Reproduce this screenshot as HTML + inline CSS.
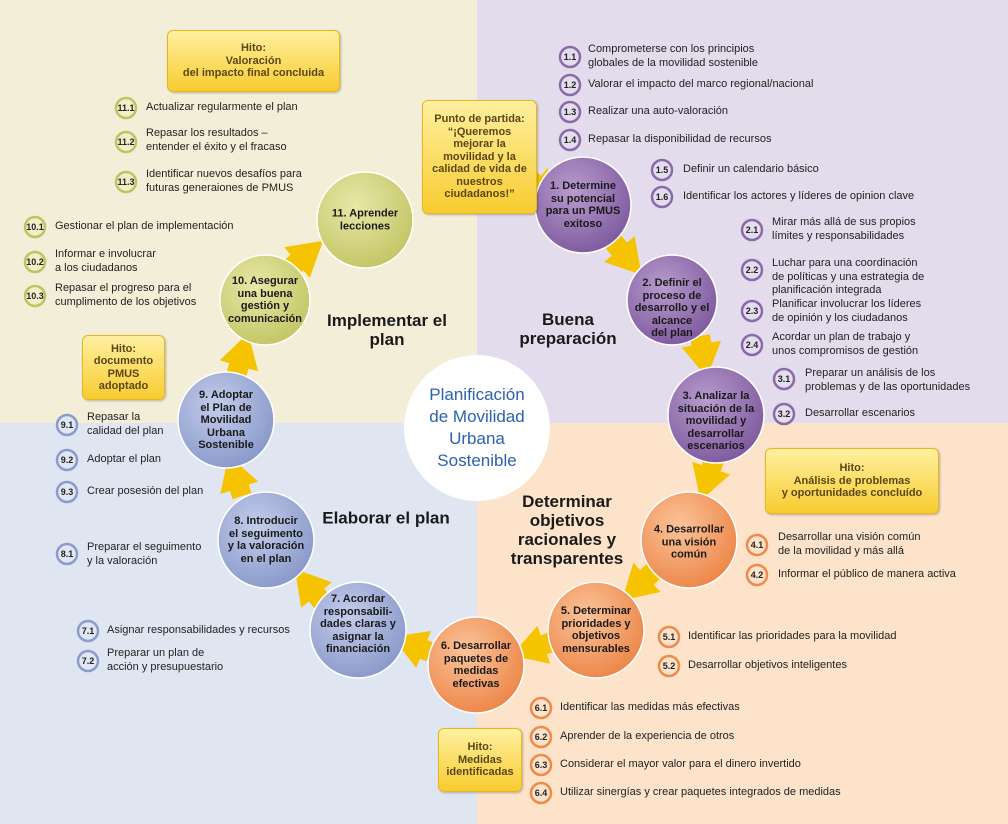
<!DOCTYPE html>
<html><head><meta charset="utf-8"><style>
body{margin:0;width:1008px;height:824px;overflow:hidden;font-family:"Liberation Sans",sans-serif}
#w{position:relative;width:1008px;height:824px}
svg{position:absolute;left:0;top:0}
.t{position:absolute;font-size:11px;color:#222;line-height:13.5px;white-space:nowrap}
.c{position:absolute;text-align:center;font-weight:bold;font-size:11px;line-height:12.5px;color:#1a1a1a;transform:translate(-50%,-50%);white-space:nowrap}
.ph{position:absolute;text-align:center;font-weight:bold;font-size:17px;line-height:19px;color:#1a1a1a;transform:translate(-50%,-50%);white-space:nowrap}
.h{position:absolute;background:linear-gradient(#fff0a0,#f8cc30);border:1px solid #e6b820;border-radius:6px;text-align:center;font-weight:bold;font-size:11px;line-height:12.5px;color:#5a4715;display:flex;align-items:center;justify-content:center;box-shadow:1px 1px 2px rgba(0,0,0,.25)}
</style></head><body><div id="w">
<svg width="1008" height="824">
<defs>
<radialGradient id="gp" cx=".4" cy=".35" r=".7"><stop offset="0" stop-color="#b79ccd"/><stop offset="1" stop-color="#7d589d"/></radialGradient>
<radialGradient id="go" cx=".4" cy=".35" r=".7"><stop offset="0" stop-color="#fbc49a"/><stop offset="1" stop-color="#ec8446"/></radialGradient>
<radialGradient id="gb" cx=".4" cy=".35" r=".7"><stop offset="0" stop-color="#c4cdea"/><stop offset="1" stop-color="#8797c9"/></radialGradient>
<radialGradient id="gg" cx=".4" cy=".35" r=".7"><stop offset="0" stop-color="#e8e8a8"/><stop offset="1" stop-color="#c2c463"/></radialGradient>
<marker id="ar" markerUnits="userSpaceOnUse" markerWidth="44" markerHeight="44" refX="4" refY="22" orient="auto"><path d="M0,2 L34,22 L0,42 Z" fill="#f6c300"/></marker>
</defs>
<rect x="0" y="0" width="477" height="423" fill="#f3eed8"/>
<rect x="477" y="0" width="531" height="423" fill="#e3dced"/>
<rect x="0" y="423" width="477" height="401" fill="#dfe6f2"/>
<rect x="477" y="423" width="531" height="401" fill="#fce3ca"/>
<circle cx="477" cy="428" r="73" fill="#fff"/>
<g stroke="#f6c300" stroke-width="20" marker-end="url(#ar)" fill="none">
<line x1="528" y1="178" x2="538" y2="186"/>
<line x1="610" y1="238" x2="622" y2="252"/>
<line x1="700" y1="336" x2="702" y2="348"/>
<line x1="714" y1="460" x2="710" y2="472"/>
<line x1="657" y1="568" x2="644" y2="580"/>
<line x1="552" y1="642" x2="540" y2="646"/>
<line x1="430" y1="652" x2="420" y2="648"/>
<line x1="324" y1="604" x2="314" y2="592"/>
<line x1="242" y1="496" x2="238" y2="484"/>
<line x1="236" y1="376" x2="240" y2="362"/>
<line x1="288" y1="270" x2="300" y2="260"/>
</g>
<g stroke="#fff" stroke-width="1.5">
<circle cx="583" cy="205" r="48" fill="url(#gp)"/>
<circle cx="672" cy="300" r="45" fill="url(#gp)"/>
<circle cx="716" cy="415" r="48" fill="url(#gp)"/>
<circle cx="689" cy="540" r="48" fill="url(#go)"/>
<circle cx="596" cy="630" r="48" fill="url(#go)"/>
<circle cx="476" cy="665" r="48" fill="url(#go)"/>
<circle cx="358" cy="630" r="48" fill="url(#gb)"/>
<circle cx="266" cy="540" r="48" fill="url(#gb)"/>
<circle cx="226" cy="420" r="48" fill="url(#gb)"/>
<circle cx="265" cy="300" r="45" fill="url(#gg)"/>
<circle cx="365" cy="220" r="48" fill="url(#gg)"/>
</g>
<g stroke-width="2.5" font-family="Liberation Sans" font-size="9" font-weight="bold" text-anchor="middle">
<g fill="#e4dcef" stroke="#8a6aa8">
<circle cx="570" cy="57" r="10"/><circle cx="570" cy="85" r="10"/><circle cx="570" cy="112" r="10"/><circle cx="570" cy="140" r="10"/>
<circle cx="662" cy="170" r="10"/><circle cx="662" cy="197" r="10"/><circle cx="752" cy="230" r="10"/><circle cx="752" cy="270" r="10"/>
<circle cx="752" cy="311" r="10"/><circle cx="752" cy="345" r="10"/><circle cx="784" cy="379" r="10"/><circle cx="784" cy="414" r="10"/></g>
<g fill="#fde3cb" stroke="#ee8a4a">
<circle cx="757" cy="545" r="10"/><circle cx="757" cy="575" r="10"/><circle cx="669" cy="637" r="10"/><circle cx="669" cy="666" r="10"/>
<circle cx="541" cy="708" r="10"/><circle cx="541" cy="737" r="10"/><circle cx="541" cy="765" r="10"/><circle cx="541" cy="793" r="10"/></g>
<g fill="#e0e6f3" stroke="#8b9bcc">
<circle cx="67" cy="425" r="10"/><circle cx="67" cy="460" r="10"/><circle cx="67" cy="492" r="10"/><circle cx="67" cy="554" r="10"/>
<circle cx="88" cy="631" r="10"/><circle cx="88" cy="661" r="10"/></g>
<g fill="#f0efc8" stroke="#c0c264">
<circle cx="126" cy="108" r="10"/><circle cx="126" cy="142" r="10"/><circle cx="126" cy="182" r="10"/>
<circle cx="35" cy="227" r="10"/><circle cx="35" cy="262" r="10"/><circle cx="35" cy="296" r="10"/></g>
<g fill="#222" stroke="none">
<text x="570" y="60">1.1</text><text x="570" y="88">1.2</text><text x="570" y="115">1.3</text><text x="570" y="143">1.4</text>
<text x="662" y="173">1.5</text><text x="662" y="200">1.6</text><text x="752" y="233">2.1</text><text x="752" y="273">2.2</text>
<text x="752" y="314">2.3</text><text x="752" y="348">2.4</text><text x="784" y="382">3.1</text><text x="784" y="417">3.2</text>
<text x="757" y="548">4.1</text><text x="757" y="578">4.2</text><text x="669" y="640">5.1</text><text x="669" y="669">5.2</text>
<text x="541" y="711">6.1</text><text x="541" y="740">6.2</text><text x="541" y="768">6.3</text><text x="541" y="796">6.4</text>
<text x="67" y="428">9.1</text><text x="67" y="463">9.2</text><text x="67" y="495">9.3</text><text x="67" y="557">8.1</text>
<text x="88" y="634">7.1</text><text x="88" y="664">7.2</text>
<text x="126" y="111">11.1</text><text x="126" y="145">11.2</text><text x="126" y="185">11.3</text>
<text x="35" y="230">10.1</text><text x="35" y="265">10.2</text><text x="35" y="299">10.3</text></g>
</g>
</svg>
<div class="c" style="left:477px;top:428px;font-size:17px;line-height:22px;font-weight:normal;color:#2a62ad">Planificación<br>de Movilidad<br>Urbana<br>Sostenible</div>
<div class="c" style="left:583px;top:205px">1. Determine<br>su potencial<br>para un PMUS<br>exitoso</div>
<div class="c" style="left:672px;top:308px">2. Definir el<br>proceso de<br>desarrollo y el<br>alcance<br>del plan</div>
<div class="c" style="left:716px;top:421px">3. Analizar la<br>situación de la<br>movilidad y<br>desarrollar<br>escenarios</div>
<div class="c" style="left:689px;top:542px">4. Desarrollar<br>una visión<br>común</div>
<div class="c" style="left:596px;top:630px">5. Determinar<br>prioridades y<br>objetivos<br>mensurables</div>
<div class="c" style="left:476px;top:665px">6. Desarrollar<br>paquetes de<br>medidas<br>efectivas</div>
<div class="c" style="left:358px;top:624px">7. Acordar<br>responsabili-<br>dades claras y<br>asignar la<br>financiación</div>
<div class="c" style="left:266px;top:540px">8. Introducir<br>el seguimento<br>y la valoración<br>en el plan</div>
<div class="c" style="left:226px;top:420px">9. Adoptar<br>el Plan de<br>Movilidad<br>Urbana<br>Sostenible</div>
<div class="c" style="left:265px;top:300px">10. Asegurar<br>una buena<br>gestión y<br>comunicación</div>
<div class="c" style="left:365px;top:220px">11. Aprender<br>lecciones</div>
<div class="ph" style="left:568px;top:329px">Buena<br>preparación</div>
<div class="ph" style="left:387px;top:330px">Implementar el<br>plan</div>
<div class="ph" style="left:386px;top:518px">Elaborar el plan</div>
<div class="ph" style="left:567px;top:530px">Determinar<br>objetivos<br>racionales y<br>transparentes</div>
<div class="h" style="left:167px;top:30px;width:171px;height:60px">Hito:<br>Valoración<br>del impacto final concluida</div>
<div class="h" style="left:422px;top:100px;width:113px;height:112px">Punto de partida:<br>“¡Queremos<br>mejorar la<br>movilidad y la<br>calidad de vida de<br>nuestros<br>ciudadanos!”</div>
<div class="h" style="left:82px;top:335px;width:81px;height:63px">Hito:<br>documento<br>PMUS<br>adoptado</div>
<div class="h" style="left:765px;top:448px;width:172px;height:64px">Hito:<br>Análisis de problemas<br>y oportunidades concluído</div>
<div class="h" style="left:438px;top:728px;width:82px;height:62px">Hito:<br>Medidas<br>identificadas</div>
<div class="t" style="left:588px;top:43px">Comprometerse con los principios<br>globales de la movilidad sostenible</div>
<div class="t" style="left:588px;top:78px">Valorar el impacto del marco regional/nacional</div>
<div class="t" style="left:588px;top:105px">Realizar una auto-valoración</div>
<div class="t" style="left:588px;top:133px">Repasar la disponibilidad de recursos</div>
<div class="t" style="left:683px;top:163px">Definir un calendario básico</div>
<div class="t" style="left:683px;top:190px">Identificar los actores y líderes de opinion clave</div>
<div class="t" style="left:772px;top:216px">Mirar más allá de sus propios<br>límites y responsabilidades</div>
<div class="t" style="left:772px;top:257px">Luchar para una coordinación<br>de políticas y una estrategia de<br>planificación integrada</div>
<div class="t" style="left:772px;top:298px">Planificar involucrar los líderes<br>de opinión y los ciudadanos</div>
<div class="t" style="left:772px;top:331px">Acordar un plan de trabajo y<br>unos compromisos de gestión</div>
<div class="t" style="left:805px;top:367px">Preparar un análisis de los<br>problemas y de las oportunidades</div>
<div class="t" style="left:805px;top:407px">Desarrollar escenarios</div>
<div class="t" style="left:778px;top:531px">Desarrollar una visión común<br>de la movilidad y más allá</div>
<div class="t" style="left:778px;top:568px">Informar el público de manera activa</div>
<div class="t" style="left:688px;top:630px">Identificar las prioridades para la movilidad</div>
<div class="t" style="left:688px;top:659px">Desarrollar objetivos inteligentes</div>
<div class="t" style="left:560px;top:701px">Identificar las medidas más efectivas</div>
<div class="t" style="left:560px;top:730px">Aprender de la experiencia de otros</div>
<div class="t" style="left:560px;top:758px">Considerar el mayor valor para el dinero invertido</div>
<div class="t" style="left:560px;top:786px">Utilizar sinergías y crear paquetes integrados de medidas</div>
<div class="t" style="left:87px;top:411px">Repasar la<br>calidad del plan</div>
<div class="t" style="left:87px;top:453px">Adoptar el plan</div>
<div class="t" style="left:87px;top:485px">Crear posesión del plan</div>
<div class="t" style="left:87px;top:541px">Preparar el seguimento<br>y la valoración</div>
<div class="t" style="left:107px;top:624px">Asignar responsabilidades y recursos</div>
<div class="t" style="left:107px;top:647px">Preparar un plan de<br>acción y presupuestario</div>
<div class="t" style="left:146px;top:101px">Actualizar regularmente el plan</div>
<div class="t" style="left:146px;top:127px">Repasar los resultados –<br>entender el éxito y el fracaso</div>
<div class="t" style="left:146px;top:168px">Identificar nuevos desafíos para<br>futuras generaiones de PMUS</div>
<div class="t" style="left:55px;top:220px">Gestionar el plan de implementación</div>
<div class="t" style="left:55px;top:248px">Informar e involucrar<br>a los ciudadanos</div>
<div class="t" style="left:55px;top:282px">Repasar el progreso para el<br>cumplimento de los objetivos</div>
</div></body></html>
